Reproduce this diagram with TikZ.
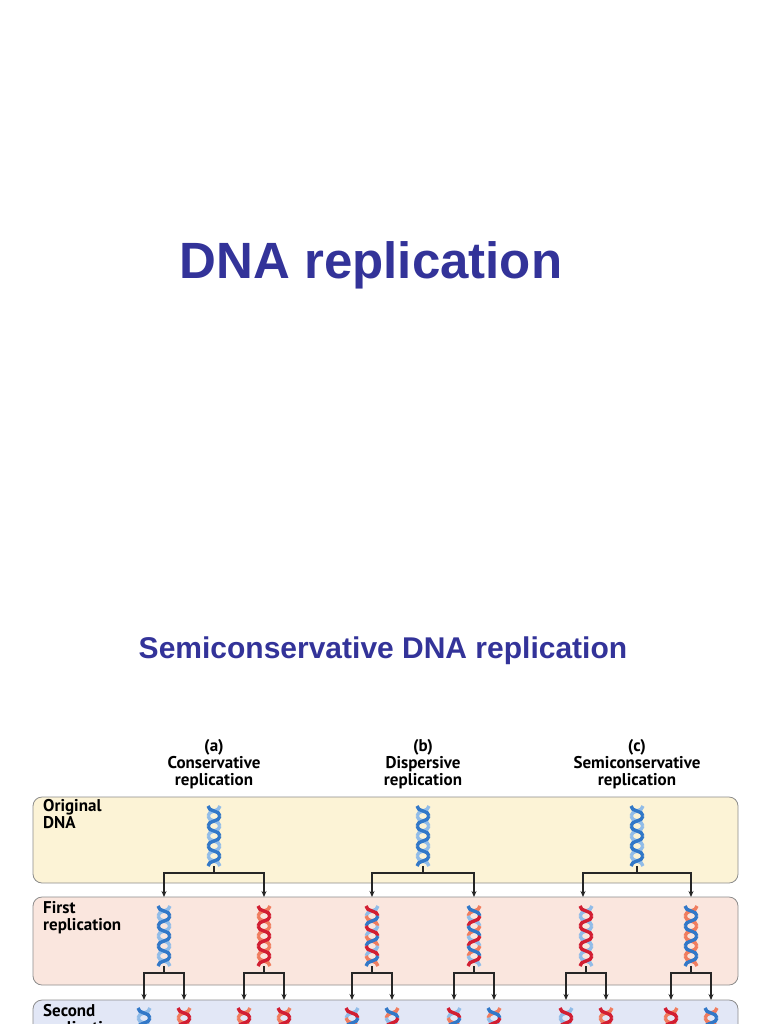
\documentclass[tikz,border=0pt]{standalone}
\usepackage{fontspec}
\setmainfont{Liberation Sans}
\newfontfamily\lblfont{PT Sans}
\usetikzlibrary{arrows.meta}
\definecolor{ttl}{RGB}{51,51,153}
\definecolor{bD}{RGB}{50,120,200}
\definecolor{bL}{RGB}{145,188,232}
\definecolor{rD}{RGB}{210,30,50}
\definecolor{rL}{RGB}{240,125,95}
\definecolor{boxA}{RGB}{252,243,214}
\definecolor{boxB}{RGB}{250,230,222}
\definecolor{boxC}{RGB}{226,231,246}
\tikzset{
  panel/.style={draw=black!45,line width=0.8pt,rounded corners=9pt},
  lbl/.style={font=\lblfont\bfseries\fontsize{17}{17}\selectfont,align=left,anchor=north west,inner sep=0pt},
  col/.style={font=\lblfont\bfseries\fontsize{17}{17}\selectfont,align=center,anchor=north,inner sep=0pt},
  brk/.style={line width=1.1pt,black!85},
  arr/.style={brk,-{Stealth[length=6pt,width=5pt]}},
  strand/.style={line width=3.4pt}
}
% helix: x, ytop, strand A colours (odd/even), strand B colours (odd/even)
\newcommand\hlx[6]{%
  \foreach \k in {0,...,5}{%
    \pgfmathsetmacro\ya{#2+\k*10}\pgfmathsetmacro\yb{#2+\k*10+10}%
    \pgfmathtruncatemacro\hpar{mod(\k,2)}%
    \ifnum\hpar=0
      \draw[strand,#4] (#1+6,\ya) .. controls (#1+6,\ya+6) and (#1-6,\yb-6) .. (#1-6,\yb);
      \draw[strand,#3] (#1-6,\ya) .. controls (#1-6,\ya+6) and (#1+6,\yb-6) .. (#1+6,\yb);
    \else
      \draw[strand,#6] (#1-6,\ya) .. controls (#1-6,\ya+6) and (#1+6,\yb-6) .. (#1+6,\yb);
      \draw[strand,#5] (#1+6,\ya) .. controls (#1+6,\ya+6) and (#1-6,\yb-6) .. (#1-6,\yb);
    \fi
  }%
}
\begin{document}
\begin{tikzpicture}[x=1pt,y=-1pt]
\useasboundingbox (0,0) rectangle (768,1024);
\clip (0,0) rectangle (768,1024);
\node[font=\bfseries\fontsize{51}{52}\selectfont,text=ttl] (title) at (371,265) {DNA replication};
\node[font=\bfseries\fontsize{30}{32}\selectfont,text=ttl] (sub) at (383,651) {Semiconservative DNA replication};
\node[col] (ca) at (214,739) {(a)\\Conservative\\replication};
\node[col] (cb) at (423,739) {(b)\\Dispersive\\replication};
\node[col] (cc) at (637,739) {(c)\\Semiconservative\\replication};
\filldraw[panel,fill=boxA] (33,797) rectangle (738,883);
\filldraw[panel,fill=boxB] (33,897) rectangle (738,985);
\filldraw[panel,fill=boxC] (33,1000) rectangle (738,1060);
\node[lbl] (l1) at (43,799) {Original\\DNA};
\node[lbl] (l2) at (43,901) {First\\replication};
\node[lbl] (l3) at (43,1004) {Second\\replication};
% original
\foreach \x in {214,423,637}{
  \hlx{\x}{806}{bD}{bL}{bD}{bL}
  \draw[brk] (\x,866) -- (\x,873);
}
\foreach \x/\d in {214/50,423/51,637/54}{
  \draw[arr] (\x,873) -| (\x-\d,897);
  \draw[arr] (\x,873) -| (\x+\d,897);
}
% first replication
\hlx{164}{906}{bD}{bL}{bD}{bL}
\hlx{264}{906}{rD}{rL}{rD}{rL}
\hlx{372}{906}{rD}{bL}{bD}{rL}
\hlx{474}{906}{bD}{rL}{rD}{bL}
\hlx{586}{906}{rD}{bL}{rD}{bL}
\hlx{691}{906}{bD}{rL}{bD}{rL}
\foreach \x in {164,264,372,474,586,691}{
  \draw[brk] (\x,966) -- (\x,973);
  \draw[arr] (\x,973) -| (\x-20,1000);
  \draw[arr] (\x,973) -| (\x+20,1000);
}
% second replication
\hlx{144}{1008}{bD}{bL}{bD}{bL}
\hlx{184}{1008}{rD}{rL}{rD}{rL}
\hlx{244}{1008}{rD}{rL}{rD}{rL}
\hlx{284}{1008}{rD}{rL}{rD}{rL}
\hlx{352}{1008}{rD}{bL}{bD}{rL}
\hlx{392}{1008}{bD}{rL}{rD}{bL}
\hlx{454}{1008}{rD}{bL}{bD}{rL}
\hlx{494}{1008}{bD}{rL}{rD}{bL}
\hlx{566}{1008}{rD}{bL}{rD}{bL}
\hlx{606}{1008}{rD}{rL}{rD}{rL}
\hlx{671}{1008}{rD}{rL}{rD}{rL}
\hlx{711}{1008}{bD}{rL}{bD}{rL}
\end{tikzpicture}
\end{document}
